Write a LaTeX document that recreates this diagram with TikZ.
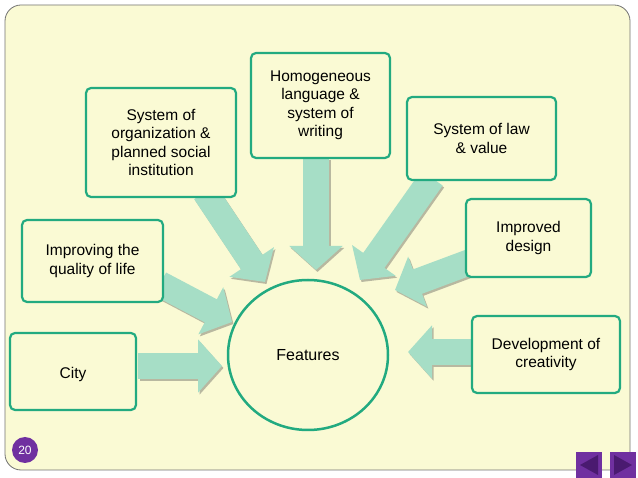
\documentclass[tikz,border=0pt]{standalone}
\usepackage{fontspec}
\setmainfont{Liberation Sans}
\usetikzlibrary{arrows.meta,shapes.geometric}
\definecolor{bg}{HTML}{FAFAD4}
\definecolor{bgreen}{HTML}{22AA80}
\definecolor{agreen}{HTML}{A6DEC6}
\definecolor{shc}{HTML}{B8B8A0}
\definecolor{purp}{HTML}{7030A0}
\definecolor{dpurp}{HTML}{4A1A70}
\begin{document}
\begin{tikzpicture}[x=1pt,y=-1pt,
  box/.style={draw=bgreen,line width=2.2pt,fill=bg,rounded corners=5pt,align=center,font=\fontsize{15.5}{18.5}\selectfont},
  barrow/.style={draw=agreen,line width=26pt,-{Triangle[length=24pt,width=52pt,fill=agreen]}},
  sh/.style={draw=shc,line width=26pt,-{Triangle[length=24pt,width=52pt,fill=shc]}}]
\useasboundingbox (0,0) rectangle (638,478);
\fill[white] (0,0) rectangle (638,478);
\draw[fill=bg,draw=black!55,line width=0.8pt,rounded corners=16pt] (5,5) rectangle (630,470);
% coordinates
\coordinate (c1) at (138,366); \coordinate (t1) at (222,366);
\coordinate (c2) at (160,284); \coordinate (t2) at (232,322);
\coordinate (c3) at (205,192); \coordinate (t3) at (265,282);
\coordinate (c4) at (316,158); \coordinate (t4) at (316,270);
\coordinate (c5) at (432,178); \coordinate (t5) at (360,280);
\coordinate (c6) at (470,262); \coordinate (t6) at (395,290);
\coordinate (c7) at (474,352); \coordinate (t7) at (408,352);
\foreach \i in {1,...,7}{\draw[sh] ([shift={(1.5,2)}]c\i) -- ([shift={(1.5,2)}]t\i);}
\foreach \i in {1,...,7}{\draw[barrow] (c\i) -- (t\i);}
\node[draw=bgreen,line width=2.5pt,fill=bg,ellipse,minimum width=160pt,minimum height=150pt,font=\fontsize{16}{18}\selectfont] (f) at (308,355) {Features};
\node[box,minimum width=126pt,minimum height=77pt] (b1) at (73,371.5) {\\[-1pt]City};
\node[box,minimum width=141pt,minimum height=82pt] (b2) at (92.5,261) {Improving the\\quality of life};
\node[box,minimum width=150pt,minimum height=109pt] (b3) at (161,142.5) {System of\\organization \&\\planned social\\institution};
\node[box,minimum width=139pt,minimum height=105pt] (b4) at (320.5,105.5) {Homogeneous\\language \&\\system of\\writing};
\node[box,minimum width=149pt,minimum height=83pt] (b5) at (481.5,138.5) {System of law\\\& value};
\node[box,minimum width=125pt,minimum height=78pt] (b6) at (528.5,238) {Improved\\design};
\node[box,minimum width=148pt,minimum height=77pt] (b7) at (546,354.5) {Development of\\creativity};
\node[circle,fill=purp,minimum size=26pt,inner sep=0pt,text=white,font=\fontsize{12}{14}\selectfont] (pn) at (25,450) {20};
\node[fill=purp,minimum size=26pt,inner sep=0pt] (nb1) at (589,465) {};
\node[fill=purp,minimum size=26pt,inner sep=0pt] (nb2) at (623,465) {};
\fill[dpurp] ([shift={(-9,0)}]nb1.center) -- ([shift={(9,-10)}]nb1.center) -- ([shift={(9,10)}]nb1.center) -- cycle;
\fill[dpurp] ([shift={(9,0)}]nb2.center) -- ([shift={(-9,-10)}]nb2.center) -- ([shift={(-9,10)}]nb2.center) -- cycle;
\end{tikzpicture}
\end{document}
